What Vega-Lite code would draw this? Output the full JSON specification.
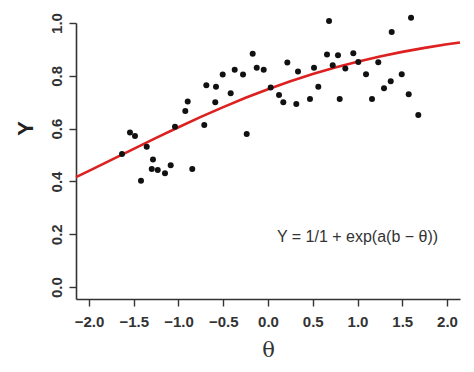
{
  "$schema": "https://vega.github.io/schema/vega-lite/v6.json",
  "width": 384,
  "height": 276,
  "autosize": "none",
  "padding": {"left": 76, "top": 23, "right": 14, "bottom": 73},
  "background": "white",
  "config": {
    "view": {"stroke": null},
    "axis": {
      "grid": false,
      "labelFont": "Liberation Sans",
      "labelFontWeight": "bold",
      "labelFontSize": 15,
      "labelColor": "#333333",
      "domainColor": "#333333",
      "domainWidth": 1.6,
      "tickColor": "#333333",
      "tickWidth": 1.4,
      "tickSize": 7
    }
  },
  "datasets": {
    "curve": [
      {"theta": -2.145, "Y": 0.4165},
      {"theta": -2.0, "Y": 0.4401},
      {"theta": -1.75, "Y": 0.4816},
      {"theta": -1.5, "Y": 0.5234},
      {"theta": -1.25, "Y": 0.5648},
      {"theta": -1.0, "Y": 0.6053},
      {"theta": -0.75, "Y": 0.6444},
      {"theta": -0.5, "Y": 0.6817},
      {"theta": -0.25, "Y": 0.7168},
      {"theta": 0.0, "Y": 0.7494},
      {"theta": 0.25, "Y": 0.7794},
      {"theta": 0.5, "Y": 0.8068},
      {"theta": 0.75, "Y": 0.8315},
      {"theta": 1.0, "Y": 0.8536},
      {"theta": 1.25, "Y": 0.8733},
      {"theta": 1.5, "Y": 0.8906},
      {"theta": 1.75, "Y": 0.9059},
      {"theta": 2.0, "Y": 0.9192},
      {"theta": 2.145, "Y": 0.9261}
    ],
    "points": [
      {"theta": -1.631, "Y": 0.504},
      {"theta": -1.542, "Y": 0.585},
      {"theta": -1.486, "Y": 0.572},
      {"theta": -1.419, "Y": 0.403},
      {"theta": -1.355, "Y": 0.531},
      {"theta": -1.285, "Y": 0.483},
      {"theta": -1.299, "Y": 0.447},
      {"theta": -1.232, "Y": 0.443},
      {"theta": -1.151, "Y": 0.431},
      {"theta": -1.087, "Y": 0.461},
      {"theta": -1.039, "Y": 0.607},
      {"theta": -0.924, "Y": 0.667},
      {"theta": -0.897, "Y": 0.703},
      {"theta": -0.846, "Y": 0.447},
      {"theta": -0.712, "Y": 0.614},
      {"theta": -0.689, "Y": 0.764},
      {"theta": -0.581, "Y": 0.759},
      {"theta": -0.589, "Y": 0.700},
      {"theta": -0.506, "Y": 0.805},
      {"theta": -0.417, "Y": 0.734},
      {"theta": -0.372, "Y": 0.823},
      {"theta": -0.279, "Y": 0.805},
      {"theta": -0.238, "Y": 0.580},
      {"theta": -0.171, "Y": 0.884},
      {"theta": -0.126, "Y": 0.831},
      {"theta": -0.048, "Y": 0.823},
      {"theta": 0.030, "Y": 0.756},
      {"theta": 0.123, "Y": 0.727},
      {"theta": 0.171, "Y": 0.700},
      {"theta": 0.216, "Y": 0.850},
      {"theta": 0.335, "Y": 0.816},
      {"theta": 0.316, "Y": 0.693},
      {"theta": 0.469, "Y": 0.712},
      {"theta": 0.514, "Y": 0.831},
      {"theta": 0.562, "Y": 0.759},
      {"theta": 0.682, "Y": 1.008},
      {"theta": 0.659, "Y": 0.881},
      {"theta": 0.782, "Y": 0.878},
      {"theta": 0.723, "Y": 0.840},
      {"theta": 0.801, "Y": 0.712},
      {"theta": 0.864, "Y": 0.828},
      {"theta": 0.953, "Y": 0.885},
      {"theta": 1.009, "Y": 0.852},
      {"theta": 1.095, "Y": 0.806},
      {"theta": 1.162, "Y": 0.712},
      {"theta": 1.232, "Y": 0.851},
      {"theta": 1.296, "Y": 0.753},
      {"theta": 1.371, "Y": 0.779},
      {"theta": 1.382, "Y": 0.966},
      {"theta": 1.494, "Y": 0.806},
      {"theta": 1.598, "Y": 1.020},
      {"theta": 1.572, "Y": 0.730},
      {"theta": 1.679, "Y": 0.652}
    ],
    "label": [
      {"theta": 1.0, "Y": 0.19, "text": "Y = 1/1 + exp(a(b − θ))"}
    ]
  },
  "encoding": {
    "x": {
      "field": "theta",
      "type": "quantitative",
      "scale": {"domain": [-2.145, 2.145], "nice": false, "zero": false},
      "axis": {
        "title": "θ",
        "titleFont": "DejaVu Serif",
        "titleFontSize": 21,
        "titleFontWeight": "normal",
        "titleColor": "#333333",
        "titleX": 192,
        "titleY": 51,
        "titleAlign": "center",
        "titleBaseline": "middle",
        "values": [-2, -1.5, -1, -0.5, 0, 0.5, 1, 1.5, 2],
        "format": ".1f",
        "labelPadding": 8,
        "labelFlush": false
      }
    },
    "y": {
      "field": "Y",
      "type": "quantitative",
      "scale": {"domain": [-0.045, 1.0], "nice": false, "zero": false},
      "axis": {
        "title": "Y",
        "titleFont": "Liberation Sans",
        "titleFontSize": 22,
        "titleFontWeight": "bold",
        "titleColor": "#222222",
        "titleAngle": -90,
        "titleX": -51,
        "titleY": 105,
        "titleAlign": "center",
        "titleBaseline": "middle",
        "values": [0, 0.2, 0.4, 0.6, 0.8, 1.0],
        "format": ".1f",
        "labelAngle": -90,
        "labelAlign": "center",
        "labelBaseline": "alphabetic",
        "labelPadding": 8,
        "labelFlush": false
      }
    }
  },
  "layer": [
    {
      "data": {"name": "curve"},
      "mark": {"type": "line", "color": "#dd2020", "strokeWidth": 2.6}
    },
    {
      "data": {"name": "points"},
      "mark": {"type": "circle", "color": "#111111", "opacity": 1, "size": 36}
    },
    {
      "data": {"name": "label"},
      "mark": {"type": "text", "font": "Liberation Sans", "fontSize": 16, "color": "#333333", "align": "center", "baseline": "middle"},
      "encoding": {"text": {"field": "text"}}
    }
  ]
}
